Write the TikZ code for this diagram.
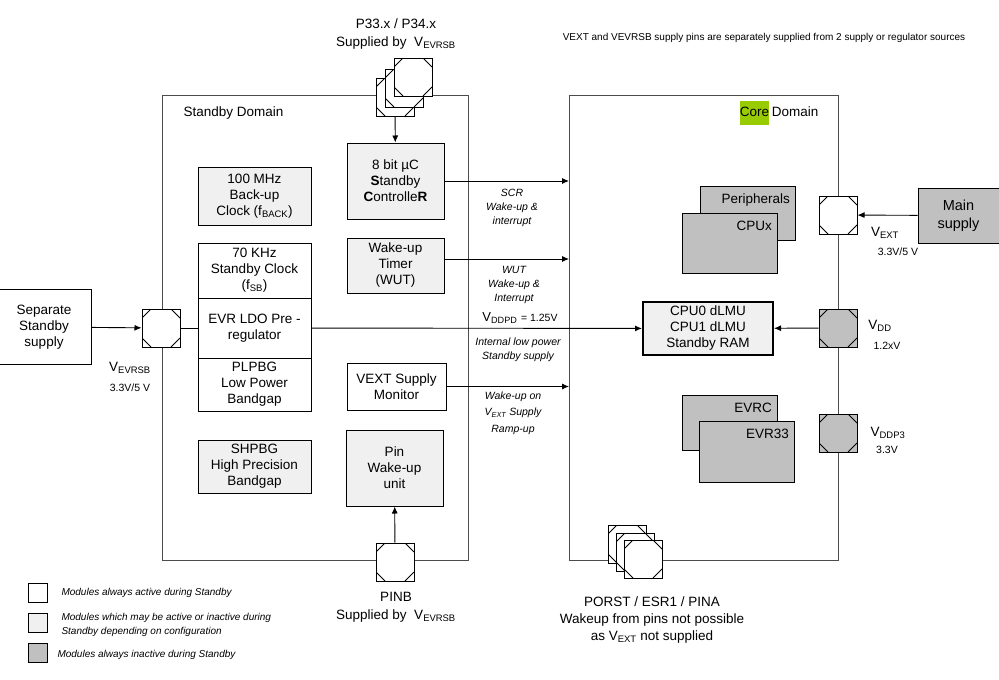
\documentclass[tikz,border=0pt]{standalone}
\usepackage{fontspec}
\setmainfont{Liberation Sans}
\usetikzlibrary{arrows.meta}
\definecolor{lite}{RGB}{240,240,240}
\definecolor{dark}{RGB}{192,192,192}
\definecolor{hilite}{RGB}{153,204,0}
\newcommand{\sub}[1]{\textsubscript{#1}}
\tikzset{
  box/.style={draw, line width=1pt, align=center, inner sep=0pt, font=\fontsize{13.5}{16}\selectfont},
  note/.style={font=\fontsize{10.5}{14}\selectfont\itshape, align=center},
  lbl/.style={font=\fontsize{13.5}{17.5}\selectfont, align=center},
  tag/.style={font=\fontsize{13.5}{16}\selectfont, anchor=north east},
  pin/.style={draw, line width=1pt, minimum size=38pt, inner sep=0pt, fill=white,
    path picture={
      \draw ([xshift=9pt]path picture bounding box.north west) -- ([yshift=-9pt]path picture bounding box.north west);
      \draw ([xshift=-9pt]path picture bounding box.north east) -- ([yshift=-9pt]path picture bounding box.north east);
      \draw ([xshift=9pt]path picture bounding box.south west) -- ([yshift=9pt]path picture bounding box.south west);
      \draw ([xshift=-9pt]path picture bounding box.south east) -- ([yshift=9pt]path picture bounding box.south east);}},
  arr/.style={-{Latex[length=7pt,width=6pt]}, line width=0.9pt}
}
\begin{document}
\begin{tikzpicture}[x=1pt,y=-1pt]
\useasboundingbox (0,0) rectangle (999,680);
% domains
\draw[line width=0.9pt, draw=black!70] (162,95) rectangle (468,560);
\draw[line width=0.9pt, draw=black!70] (569,95) rectangle (838,560);
\node[lbl, anchor=west] (sbd) at (180,113) {Standby Domain};
\node[lbl, anchor=east] (cd) at (822,113) {\colorbox{hilite}{\strut\kern-3pt Core\kern-3pt}\kern-1pt{} Domain};

% standby domain modules
\node[box, fill=white, minimum width=94pt, minimum height=75pt] (sep) at (44,327) {Separate\\Standby\\supply};
\node[box, fill=lite, minimum width=113pt, minimum height=58pt] (back) at (254.5,196) {100 MHz\\Back-up\\Clock (f\sub{BACK})};
\node[box, fill=white, minimum width=113pt, minimum height=55pt] (sbclk) at (254.5,270.5) {70 KHz\\Standby Clock\\(f\sub{SB})};
\node[box, fill=white, minimum width=113pt, minimum height=60pt] (ldo) at (254.5,328) {EVR LDO Pre -\\regulator};
\node[box, fill=white, minimum width=113pt, minimum height=53pt] (plpbg) at (254.5,384.5) {PLPBG\\Low Power\\Bandgap};
\node[box, fill=lite, minimum width=113pt, minimum height=53pt] (shpbg) at (254.5,466.5) {SHPBG\\High Precision\\Bandgap};
\node[box, fill=lite, minimum width=97pt, minimum height=76pt] (scr) at (395.5,181) {8 bit µC\\\textbf{S}tandby\\\textbf{C}ontrolle\textbf{R}};
\node[box, fill=lite, minimum width=97pt, minimum height=55pt] (wut) at (395.5,265.5) {Wake-up\\Timer\\(WUT)};
\node[box, fill=white, minimum width=99pt, minimum height=47pt] (mon) at (396.5,386.5) {VEXT Supply\\Monitor};
\node[box, fill=lite, minimum width=97pt, minimum height=76pt] (pwu) at (394.5,468) {Pin\\Wake-up\\unit};

% pins of the standby domain
\node[pin] (evrsb) at (161,328) {};
\node[pin] (p33c) at (395,97) {};
\node[pin] (p33b) at (404,88) {};
\node[pin] (p33a) at (413,77) {};
\node[pin] (pinb) at (395,562) {};
\node[lbl] (evrsbl) at (130,368) {V\sub{EVRSB}};
\node[font=\fontsize{10.5}{12}\selectfont] (evrsbv) at (130,388) {3.3V/5 V};
\node[lbl] (p33l) at (396,34) {P33.x / P34.x\\Supplied by \ V\sub{EVRSB}};
\node[lbl] (pinbl) at (396,607) {PINB\\Supplied by \ V\sub{EVRSB}};
\node[font=\fontsize{10}{12}\selectfont] (topnote) at (764,38) {VEXT and VEVRSB supply pins are separately supplied from 2 supply or regulator sources};

% core domain modules
\node[box, fill=dark, minimum width=95pt, minimum height=54pt] (peri) at (747.5,213) {};
\node[tag] at ([yshift=-5pt]peri.north east) {Peripherals\kern2pt};
\node[box, fill=dark, minimum width=95pt, minimum height=60pt] (cpux) at (729.5,243) {};
\node[tag] at ([yshift=-5pt]cpux.north east) {CPUx\kern2pt};
\node[box, fill=lite, line width=2pt, minimum width=130pt, minimum height=53pt] (lmu) at (708,328.5) {CPU0 dLMU\\CPU1 dLMU\\Standby RAM};
\node[box, fill=dark, minimum width=95pt, minimum height=55pt] (evrc) at (729.5,422.5) {};
\node[tag] at ([yshift=-5pt]evrc.north east) {EVRC\kern2pt};
\node[box, fill=dark, minimum width=95pt, minimum height=61pt] (evr33) at (746.5,451.5) {};
\node[tag] at ([yshift=-5pt]evr33.north east) {EVR33\kern2pt};
\node[box, fill=dark, minimum width=81pt, minimum height=55pt, font=\fontsize{14.5}{18}\selectfont] (main) at (958.5,215.5) {Main\\supply};
\node[pin] (vext) at (838,215) {};
\node[pin, fill=dark] (vdd) at (838,328) {};
\node[pin, fill=dark] (vddp3) at (838,433) {};
\node[pin] (porc) at (627,544) {};
\node[pin] (porb) at (635,552) {};
\node[pin] (pora) at (643,559) {};
\node[lbl] (vextl) at (885,233) {V\sub{EXT}};
\node[font=\fontsize{10.5}{12}\selectfont] (vextv) at (898,252) {3.3V/5 V};
\node[lbl] (vddl) at (880,326) {V\sub{DD}};
\node[font=\fontsize{10.5}{12}\selectfont] (vddv) at (887,346) {1.2xV};
\node[lbl] (vddp3l) at (888,433) {V\sub{DDP3}};
\node[font=\fontsize{10.5}{12}\selectfont] (vddp3v) at (887,450) {3.3V};
\node[lbl, font=\fontsize{13.5}{17}\selectfont] (porl) at (652,620) {PORST / ESR1 / PINA\\Wakeup from pins not possible\\as V\sub{EXT} not supplied};

% signal labels
\node[note] (scrl) at (512,208) {SCR\\Wake-up \&\\interrupt};
\node[note] (wutl) at (514,285) {WUT\\Wake-up \&\\Interrupt};
\node[font=\fontsize{13}{14}\selectfont] (vddpd) at (520,318) {V\sub{DDPD} {\fontsize{10.5}{11}\selectfont = 1.25V}};
\node[note] (lowp) at (518,350) {Internal low power\\Standby supply};
\node[note, font=\fontsize{10.5}{16.5}\selectfont\itshape] (rampl) at (513,413) {Wake-up on\\V\sub{EXT} Supply\\Ramp-up};

% connectors
\draw[arr] (sep) -- (evrsb);
\draw[line width=0.9pt] (evrsb) -- (ldo);
\draw[arr] (p33c) -- (scr);
\draw[arr] (pinb) -- (pwu);
\draw[arr] (scr.east) -- (569,181);
\draw[arr] (wut.east |- 0,259) -- (569,259);
\draw[arr] (ldo) -- (lmu);
\draw[arr] (mon) -- (569,386.5);
\draw[arr] (main) -- (vext);
\draw[arr] (vdd) -- (lmu);

% legend
\node[draw, line width=1pt, fill=white, minimum size=19pt] (lg1) at (37.5,593) {};
\node[draw, line width=1pt, fill=lite, minimum size=19pt] (lg2) at (37.5,623) {};
\node[draw, line width=1pt, fill=dark, minimum size=19pt] (lg3) at (37.5,653) {};
\node[note, font=\fontsize{10}{14}\selectfont\itshape, anchor=west, align=left] at (58,593) {Modules always active during Standby};
\node[note, font=\fontsize{10}{14}\selectfont\itshape, anchor=west, align=left] at (58,625) {Modules which may be active or inactive during\\Standby depending on configuration};
\node[note, font=\fontsize{10}{14}\selectfont\itshape, anchor=west, align=left] at (54,655) {Modules always inactive during Standby};
\end{tikzpicture}
\end{document}
